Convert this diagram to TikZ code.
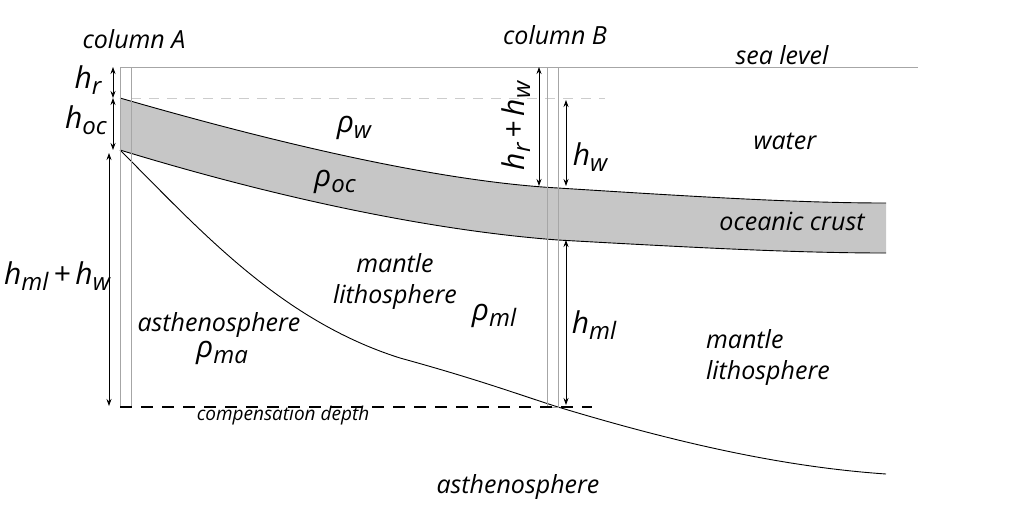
\documentclass[tikz,border=0pt]{standalone}
\usepackage{fontspec}
\setmainfont{Open Sans}
\usetikzlibrary{arrows.meta}
\newcommand{\mysub}[2]{#1\raisebox{-0.35ex}{\fontsize{24}{26}\selectfont #2}}
\begin{document}
\begin{tikzpicture}[x=1pt,y=-1pt,
  lbl/.style={font=\itshape\fontsize{25}{31}\selectfont,inner sep=1pt},
  big/.style={font=\itshape\fontsize{30}{32}\selectfont,inner sep=1pt},
  dim/.style={{Stealth[length=7pt,width=5pt]}-{Stealth[length=7pt,width=5pt]},line width=0.8pt},
  col/.style={draw=gray!70,line width=0.8pt}]
\useasboundingbox (0,0) rectangle (1024,512);
% crust
\fill[gray!45] (120,98) .. controls (300,150) and (450,182) .. (558,188) .. controls (700,197) and (800,203) .. (886,203)
  -- (886,253) .. controls (800,253) and (700,248) .. (558,240) .. controls (450,232) and (300,205) .. (120,150) -- cycle;
\draw[line width=0.9pt] (120,98) .. controls (300,150) and (450,182) .. (558,188) .. controls (700,197) and (800,203) .. (886,203);
\draw[line width=0.9pt] (120,150) .. controls (300,205) and (450,232) .. (558,240) .. controls (700,248) and (800,253) .. (886,253);
% base of lithosphere
\draw[line width=0.9pt] (120,150) .. controls (200,230) and (280,320) .. (400,358) .. controls (480,380) and (520,395) .. (558,407) .. controls (700,450) and (800,468) .. (886,474);
% sea level
\draw[gray!70,line width=0.7pt] (120,67) -- (918,67);
\draw[gray!40,dashed,dash pattern=on 10pt off 8pt] (131,98) -- (605,98);
% columns
\draw[col] (120,67) rectangle (131,407);
\draw[col] (547,67) rectangle (558,407);
% compensation depth
\draw[line width=1.2pt,dash pattern=on 12pt off 9pt] (120,407) -- (592,407);
% dimensions
\coordinate (a1) at (113,67); \coordinate (a2) at (113,98); \coordinate (a3) at (113,150);
\coordinate (a4) at (109,153); \coordinate (a5) at (109,406);
\draw[dim] (a1) -- (a2);
\draw[dim] (a2) -- (a3);
\draw[dim] (a4) -- (a5);
\coordinate (b1) at (539,67); \coordinate (b2) at (539,186);
\coordinate (c1) at (566,100); \coordinate (c2) at (566,186);
\coordinate (c3) at (566,240); \coordinate (c4) at (566,405);
\draw[dim] (b1) -- (b2);
\draw[dim] (c1) -- (c2);
\draw[dim] (c3) -- (c4);
% labels
\node[lbl] (tA) at (134,39) {column A};
\node[lbl] (tB) at (555,35) {column B};
\node[lbl] (sl) at (782,55) {sea level};
\node[big] (lhr) at (88,80) {\mysub{h}{r}};
\node[big] (lhoc) at (86,120) {\mysub{h}{oc}};
\node[big] (lhml) at (57,276) {\mysub{h}{ml}\,+\,\mysub{h}{w}};
\node[big,rotate=90] (lhrw) at (516,126) {\mysub{h}{r}\,+\,\mysub{h}{w}};
\node[big] (lhw) at (590,157) {\mysub{h}{w}};
\node[big] (lhm) at (594,325) {\mysub{h}{ml}};
\node[big] (rw) at (354,128) {\mysub{ρ}{w}};
\node[big] (roc) at (335,182) {\mysub{ρ}{oc}};
\node[big] (rml) at (494,316) {\mysub{ρ}{ml}};
\node[big] (rma) at (222,353) {\mysub{ρ}{ma}};
\node[lbl] (wat) at (785,141) {water};
\node[lbl] (oc) at (792,221) {oceanic crust};
\node[lbl,align=center] (ml1) at (395,281) {mantle\\lithosphere};
\node[lbl] (as1) at (219,325) {asthenosphere};
\node[lbl,align=left] (ml2) at (768,357) {mantle\\lithosphere};
\node[lbl,font=\itshape\fontsize{19}{20}\selectfont] (cd) at (283,416) {compensation depth};
\node[lbl] (as2) at (518,487) {asthenosphere};
\end{tikzpicture}
\end{document}
